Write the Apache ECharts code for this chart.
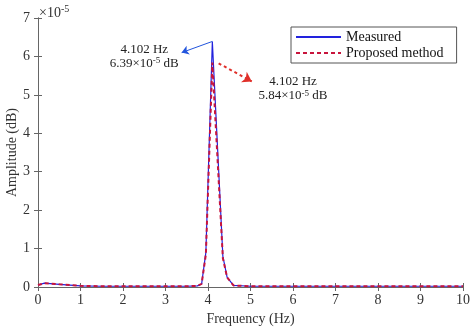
<!DOCTYPE html>
<html>
<head>
<meta charset="utf-8">
<script src="https://cdn.jsdelivr.net/npm/echarts@6/dist/echarts.min.js"></script>
<style>html,body{margin:0;padding:0;background:#fff;}#c{width:474px;height:332px;}</style>
</head>
<body>
<div id="c"></div>
<script>
var freq = [0, 0.15, 0.5, 1.0, 1.5, 2.0, 2.5, 3.0, 3.5, 3.75, 3.85, 3.95, 4.102, 4.35, 4.45, 4.6, 5, 6, 7, 8, 9, 10];
var measured = [0.05, 0.1, 0.07, 0.03, 0.02, 0.02, 0.02, 0.02, 0.02, 0.03, 0.08, 0.9, 6.39, 0.8, 0.25, 0.04, 0.02, 0.02, 0.02, 0.02, 0.02, 0.02];
var proposed = [0.05, 0.1, 0.07, 0.03, 0.02, 0.02, 0.02, 0.02, 0.02, 0.03, 0.08, 0.85, 5.84, 0.75, 0.25, 0.04, 0.02, 0.02, 0.02, 0.02, 0.02, 0.02];
var xTicks = [0,1,2,3,4,5,6,7,8,9,10];
var yTicks = [0,1,2,3,4,5,6,7];
var peakFreq = 4.102;
var peakMeasured = 6.39;
var peakProposed = 5.84;
var seriesNames = ['Measured', 'Proposed method'];

var FONT = '"Liberation Serif", "DejaVu Serif", serif';
var TXT = '#333';
var AX = '#666';
var BLUE = '#2222dd';
var RED = '#c8143c';
function pairs(xs, ys){ return xs.map(function(x,i){ return [x, ys[i]]; }); }

var chart = echarts.init(document.getElementById('c'), null, {renderer:'canvas'});
var axisCommon = {
  type: 'value', min: 0,
  axisLine: {show: true, lineStyle: {color: AX, width: 1}},
  axisTick: {show: true, inside: true, length: 4, lineStyle: {color: AX}},
  splitLine: {show: false},
  axisLabel: {color: TXT, fontFamily: FONT, fontSize: 14}
};
chart.setOption({
  animation: false,
  backgroundColor: '#fff',
  grid: {left: 38, right: 11, top: 18, bottom: 45, containLabel: false, outerBoundsMode: 'none'},
  xAxis: [
    Object.assign({}, axisCommon, {max: 10, interval: 1, position: 'bottom', name: 'Frequency (Hz)', nameLocation: 'middle', nameGap: 25, nameMoveOverlap: false,
      nameTextStyle: {color: TXT, fontFamily: FONT, fontSize: 14},
      axisLabel: {color: TXT, fontFamily: FONT, fontSize: 14, margin: 6, formatter: function(v){ return xTicks.indexOf(v) >= 0 ? String(v) : ''; }}}),
    Object.assign({}, axisCommon, {max: 10, interval: 1, position: 'top', axisLabel: {show: false}})
  ],
  yAxis: [
    Object.assign({}, axisCommon, {max: 7, interval: 1, position: 'left', name: 'Amplitude (dB)', nameLocation: 'middle', nameGap: 19, nameMoveOverlap: false,
      nameTextStyle: {color: TXT, fontFamily: FONT, fontSize: 14},
      axisLabel: {color: TXT, fontFamily: FONT, fontSize: 14, margin: 8, formatter: function(v){ return yTicks.indexOf(v) >= 0 ? String(v) : ''; }}}),
    Object.assign({}, axisCommon, {max: 7, interval: 1, position: 'right', axisLabel: {show: false}})
  ],
  legend: {
    left: 291, top: 27, orient: 'vertical', itemWidth: 45, itemHeight: 10, itemGap: 2,
    padding: [3, 13, 3, 4], backgroundColor: '#fff', borderColor: '#555', borderWidth: 1, borderRadius: 0,
    textStyle: {color: '#111', fontFamily: FONT, fontSize: 14},
    itemStyle: {opacity: 0, color: 'rgba(0,0,0,0)', borderWidth: 0},
    data: seriesNames
  },
  graphic: [{
    type: 'text', left: 39, top: 4,
    style: {text: '×10{s|-5}', rich: {s: {fontSize: 10, verticalAlign: 'top', fontFamily: FONT, fill: TXT, padding: [0,0,8,0]}}, font: '14px ' + FONT, fill: TXT}
  }],
  series: [
    {
      name: seriesNames[0], type: 'line', data: pairs(freq, measured), showSymbol: false, symbol: 'none',
      lineStyle: {color: BLUE, width: 1.2}, itemStyle: {color: BLUE}, z: 2,
      markLine: {
        silent: true, symbol: ['none', 'arrow'], symbolSize: 7,
        lineStyle: {color: '#2255dd', type: 'solid', width: 1},
        label: {show: false},
        data: [[{coord: [peakFreq, peakMeasured]}, {coord: [3.38, 6.10]}]]
      },
      markPoint: {
        silent: true, symbol: 'circle', symbolSize: 1, itemStyle: {color: 'rgba(0,0,0,0)'},
        label: {show: true, position: 'inside', color: '#222', fontFamily: FONT, fontSize: 13, lineHeight: 14,
          formatter: peakFreq + ' Hz\n' + peakMeasured.toFixed(2) + '×10{s|-5} dB', rich: {s: {fontSize: 9, verticalAlign: 'top', fontFamily: FONT, color: '#222', lineHeight: 10}}},
        data: [{coord: [2.5, 6.0]}]
      }
    },
    {
      name: seriesNames[1], type: 'line', data: pairs(freq, proposed), showSymbol: false, symbol: 'none',
      lineStyle: {color: RED, width: 2, type: [4, 3]}, itemStyle: {color: RED}, z: 3,
      markLine: {
        silent: true, symbol: ['none', 'arrow'], symbolSize: 9,
        lineStyle: {color: '#e0302a', type: [3, 3], width: 2},
        label: {show: false},
        data: [[{coord: [4.25, 5.82]}, {coord: [5.03, 5.35]}]]
      },
      markPoint: {
        silent: true, symbol: 'circle', symbolSize: 1, itemStyle: {color: 'rgba(0,0,0,0)'},
        label: {show: true, position: 'inside', color: '#222', fontFamily: FONT, fontSize: 13, lineHeight: 14,
          formatter: peakFreq + ' Hz\n' + peakProposed.toFixed(2) + '×10{s|-5} dB', rich: {s: {fontSize: 9, verticalAlign: 'top', fontFamily: FONT, color: '#222', lineHeight: 10}}},
        data: [{coord: [6.0, 5.16]}]
      }
    }
  ]
});
</script>
</body>
</html>
